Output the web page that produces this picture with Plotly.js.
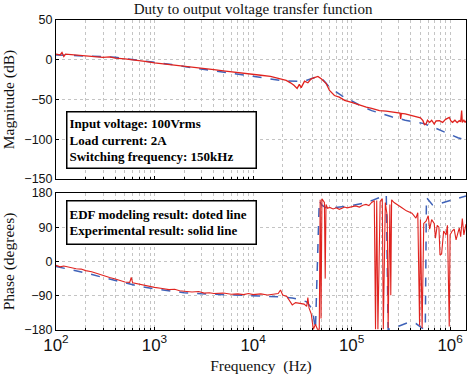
<!DOCTYPE html>
<html>
<head>
<meta charset="utf-8">
<script src="https://cdn.plot.ly/plotly-3.0.1.min.js"></script>
<style>html,body{margin:0;padding:0;background:#fff;}#chart{width:474px;height:380px;}</style>
</head>
<body>
<div id="chart"></div>
<script>
// Magnitude: EDF model (dashed)
const magModelFreq = [100,150,200,300,400,500,700,1000,1500,2000,3000,5000,7300,1e4,1.4e4,1.87e4,2.4e4,2.84e4,3.4e4,3.9e4,4.4e4,4.8e4,5.3e4,6e4,7e4,8e4,9.5e4,1.2e5,1.6e5,2e5,2.6e5,3.5e5,4.5e5,5.3e5,6.5e5,8.4e5,1e6,1.2e6,1.45e6];
const magModel = [6,5.5,5,4,3,1.5,-0.5,-3,-6,-8.5,-11.5,-15.5,-18.4,-20.5,-23.5,-26,-27,-27.2,-26.5,-24,-21.5,-22,-27,-35,-41,-45.5,-50,-57,-64,-68,-72,-76,-78.5,-80,-84,-90,-94,-98,-101];

// Magnitude: experiment (solid)
const magExpFreq = [100,110,115,120,125,150,200,250,300,350,400,500,600,700,800,1000,1200,1500,2000,2500,3000,4000,5000,6000,7000,8000,1e4,1.2e4,1.5e4,1.87e4,2.17e4,2.4e4,2.6e4,2.8e4,2.95e4,3.08e4,3.33e4,3.6e4,3.89e4,4.2e4,4.55e4,4.92e4,5.53e4,5.97e4,6.7e4,7.5e4,8.5e4,1e5,1.11e5,1.41e5,1.6e5,1.92e5,2.24e5,2.6e5,2.83e5,3.1e5,3.15e5,3.2e5,3.5e5,4e5,4.5e5,5e5,5.3e5,5.5e5,5.7e5,5.9e5,6.2e5,6.5e5,6.9e5,7.2e5,7.8e5,8.4e5,9e5,9.8e5,1.02e6,1.06e6,1.12e6,1.18e6,1.24e6,1.28e6,1.31e6,1.33e6,1.38e6,1.42e6,1.45e6];
const magExp = [7,6,9,4,7,6,5,4,3,3.5,2,1,0,-1,-2,-4,-5,-6.5,-8,-9.5,-10.5,-12.5,-14,-15,-16,-17,-18.5,-19.5,-21,-24,-26,-29,-32,-36,-31,-35,-27,-29,-24,-22.5,-21,-24,-30,-38.6,-45,-47,-51,-53.5,-55.5,-59.7,-61,-64,-64.7,-66,-66,-67,-74.5,-67.5,-68,-70,-71.5,-73,-76.6,-81.6,-80.8,-76,-78.7,-76,-80.8,-77,-76.6,-78.7,-75,-72.4,-77,-78.7,-76,-79,-76.6,-78,-64,-78.7,-76,-79,-76.6];

// Phase: EDF model (dashed)
const phModelFreq = [100,150,200,300,400,500,700,1000,1500,2000,3000,5000,7000,1e4,1.5e4,2e4,2.5e4,3e4,3.5e4,4e4,4.3e4,4.7e4,5e4,5.5e4,6e4,8e4,1e5,1.3e5,1.6e5,2e5,2.25e5,2.35e5,2.6e5,3e5,3.8e5,4.5e5,5.2e5,5.6e5,5.75e5,6.6e5,8e5,1e6,1.2e6,1.45e6];
const phModel = [-13,-22,-30,-42,-50,-57,-65,-72,-78,-82,-85,-87,-89,-90,-91,-93,-96,-100,-106,-125,-178,160,148,141,140,143,147,153,160,170,175,-178,-176,-170,-160,-163,-175,-178,168,149,153,160,166,172];

// Phase: experiment (solid)
const phExpFreq = [100,110,120,140,160,180,200,230,260,300,350,400,450,500,560,580,600,700,800,900,1000,1200,1400,1600,1800,2000,2400,2800,3200,3600,4000,5000,6000,7000,8000,9000,1e4,1.2e4,1.4e4,1.6e4,1.8e4,1.9e4,2e4,2.2e4,2.35e4,2.5e4,2.7e4,3e4,3.3e4,3.5e4,3.6e4,3.7e4,3.9e4,4.0e4,4.1e4,4.3e4,4.5e4,4.7e4,4.8e4,4.9e4,5.0e4,5.3e4,5.4e4,5.5e4,5.7e4,6e4,6.5e4,7e4,7.5e4,8e4,8.5e4,9e4,1e5,1.1e5,1.2e5,1.3e5,1.4e5,1.5e5,1.6e5,1.7e5,1.75e5,1.8e5,1.85e5,1.95e5,2.05e5,2.1e5,2.2e5,2.3e5,2.35e5,2.45e5,2.5e5,2.55e5,2.7e5,3e5,3.3e5,3.6e5,3.8e5,4.1e5,4.5e5,4.7e5,4.9e5,5.0e5,5.2e5,5.4e5,5.7e5,6.0e5,6.2e5,6.5e5,6.9e5,7.1e5,7.4e5,7.7e5,7.9e5,8.2e5,8.6e5,9.1e5,9.4e5,9.8e5,1.0e6,1.05e6,1.1e6,1.15e6,1.2e6,1.24e6,1.28e6,1.33e6,1.38e6,1.45e6];
const phExp = [-10,-14,-12,-16,-19,-20,-24,-27,-32,-36,-42,-46,-50,-54,-55,-42,-56,-60,-63,-66,-68,-71,-74,-73,-77,-78,-80,-79,-83,-82,-84,-83,-86,-85,-87,-84,-87,-85,-88,-86,-84,-75,-88,-92,-103,-114,-108,-110,-112,-118,-95,-122,-138,-160,-178,-165,-178,-178,162,-150,165,155,-45,150,140,142,138,141,137,140,143,141,144,146,143,148,150,147,155,160,-178,160,-178,158,165,-178,155,120,-175,150,-89,162,155,148,140,133,131,127,114,128,-168,110,-175,100,106,120,85,110,100,61,95,90,17,20,80,70,95,-171,70,80,85,57,75,88,65,113,70,98];

const serif = 'Liberation Serif, Times New Roman, serif';
const sans = 'Liberation Sans Narrow, Arial Narrow, Liberation Sans, Arial, sans-serif';
const gridCol = '#c4c4c4';
const redCol = '#e0231f';
const blueCol = '#3f62b8';

const traces = [
  {x: magModelFreq, y: magModel, xaxis: 'x2', yaxis: 'y', mode: 'lines', name: 'EDF model',
   line: {color: blueCol, width: 1.5, dash: 'dash'}},
  {x: magExpFreq, y: magExp, xaxis: 'x2', yaxis: 'y', mode: 'lines', name: 'Experiment',
   line: {color: redCol, width: 1.3}},
  {x: phModelFreq, y: phModel, xaxis: 'x', yaxis: 'y2', mode: 'lines', name: 'EDF model',
   line: {color: blueCol, width: 1.5, dash: 'dash'}},
  {x: phExpFreq, y: phExp, xaxis: 'x', yaxis: 'y2', mode: 'lines', name: 'Experiment',
   line: {color: redCol, width: 1.1}}
];

const xCommon = {
  type: 'log', range: [2, Math.log10(1.45e6)], dtick: 1,
  showline: true, mirror: true, linecolor: '#000', linewidth: 1,
  showgrid: true, gridcolor: gridCol, griddash: 'dot', gridwidth: 1,
  ticks: 'inside', ticklen: 3, tickcolor: '#000',
  minor: {dtick: 'D1', showgrid: true, gridcolor: gridCol, griddash: 'dot', gridwidth: 1, ticks: 'inside', ticklen: 2, tickcolor: '#000'},
  exponentformat: 'power', zeroline: false
};

const layout = {
  width: 474, height: 380,
  margin: {l: 56, r: 8, t: 20, b: 50},
  paper_bgcolor: '#fff', plot_bgcolor: '#fff',
  showlegend: false,
  title: {text: 'Duty to output voltage transfer function', font: {family: serif, size: 15, color: '#111'},
          x: 0.534, xref: 'container', xanchor: 'center', y: 0.978, yref: 'container', yanchor: 'middle'},
  xaxis: Object.assign({}, xCommon, {anchor: 'y2', domain: [0, 1],
    tickfont: {family: sans, size: 13.5, color: '#111'},
    title: {text: 'Frequency  (Hz)', font: {family: serif, size: 15.5, color: '#111'}, standoff: 6}}),
  xaxis2: Object.assign({}, xCommon, {anchor: 'y', domain: [0, 1], matches: 'x', showticklabels: false}),
  yaxis: {domain: [0.487, 1], range: [-150, 50], tickvals: [-150,-100,-50,0,50],
    showline: true, mirror: true, linecolor: '#000', linewidth: 1,
    showgrid: true, gridcolor: gridCol, griddash: 'dot', zeroline: false,
    ticks: 'inside', ticklen: 3, tickcolor: '#000',
    tickfont: {family: sans, size: 12.5, color: '#111'},
    title: {text: 'Magnitude (dB)', font: {family: serif, size: 15.5, color: '#111'}, standoff: 6}},
  yaxis2: {domain: [0, 0.442], range: [-180, 180], tickvals: [-180,-90,0,90,180],
    showline: true, mirror: true, linecolor: '#000', linewidth: 1,
    showgrid: true, gridcolor: gridCol, griddash: 'dot', zeroline: false,
    ticks: 'inside', ticklen: 3, tickcolor: '#000',
    tickfont: {family: sans, size: 12.5, color: '#111'},
    title: {text: 'Phase (degrees)', font: {family: serif, size: 15.5, color: '#111'}, standoff: 6}},
  annotations: [
    {text: 'Input voltage: 100Vrms<br>Load current: 2A<br>Switching frequency: 150kHz',
     xref: 'paper', yref: 'paper', x: 0.0237, y: 0.7065, xanchor: 'left', yanchor: 'top',
     showarrow: false, align: 'left', width: 184, height: 51,
     font: {family: serif, size: 13, color: '#000', weight: 'bold'},
     bgcolor: '#fff', bordercolor: '#000', borderwidth: 1.5, borderpad: 2},
    {text: 'EDF modeling result: doted line<br>Experimental result: solid line',
     xref: 'paper', yref: 'paper', x: 0.0237, y: 0.419, xanchor: 'left', yanchor: 'top',
     showarrow: false, align: 'left', width: 184, height: 38,
     font: {family: serif, size: 13, color: '#000', weight: 'bold'},
     bgcolor: '#fff', bordercolor: '#000', borderwidth: 1.5, borderpad: 2}
  ]
};

Plotly.newPlot('chart', traces, layout, {staticPlot: true, displayModeBar: false});
</script>
</body>
</html>
